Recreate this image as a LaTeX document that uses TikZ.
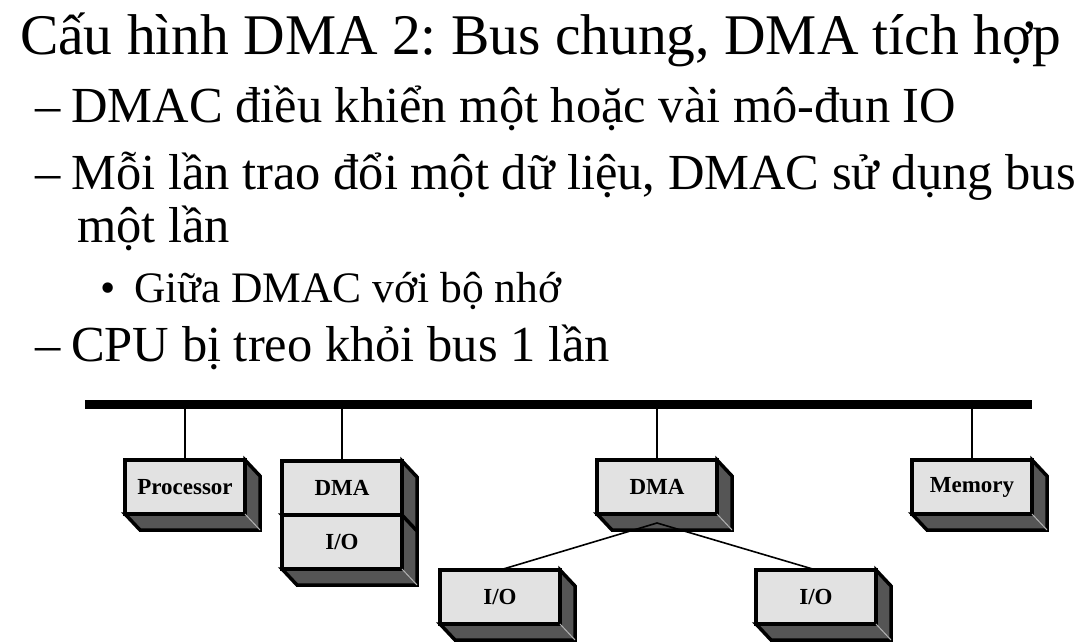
\documentclass[tikz,border=0pt]{standalone}
\usepackage{fontspec}
\setmainfont{Liberation Serif}
\usepackage{tikz}
\frenchspacing

\definecolor{facegray}{RGB}{226,226,226}
\definecolor{sidegray}{RGB}{85,85,85}

\tikzset{
	unit/.style={shape=rectangle,draw=black,line width=3.5pt,fill=facegray,
		minimum width=120pt,minimum height=54pt,inner sep=0pt,outer sep=0pt,
		font=\fontsize{23}{23}\selectfont\bfseries},
	sideface/.style={draw=black,line width=3.5pt,fill=sidegray,line join=miter},
	sideedge/.style={draw=gray!60,line width=1pt},
	wire/.style={draw=black,line width=1.6pt},
	busline/.style={draw=black,line width=9pt},
	txt/.style={anchor=base west,inner sep=0pt,outer sep=0pt}
}

% depth of the box sides
\newcommand{\extrude}[1]{%
	\draw[sideface] (#1.north east) -- ([shift={(15,16)}]#1.north east)
		-- ([shift={(15,16)}]#1.south east) -- ([shift={(15,16)}]#1.south west)
		-- (#1.south west) -- (#1.south east) -- cycle;
	\draw[sideedge] (#1.south east) -- ([shift={(15,16)}]#1.south east);}

\begin{document}
\begin{tikzpicture}[x=1pt,y=-1pt]
	\useasboundingbox (0,0) rectangle (1080,644);

	% slide text
	\node[txt,font=\fontsize{57.5}{57.5}\selectfont] (title) at (20, 55) {Cấu hình DMA 2: Bus chung, DMA tích hợp};
	\node[txt,font=\fontsize{50.5}{50.5}\selectfont] (item1) at (35, 123) {–\hspace{11pt}DMAC điều khiển một hoặc vài mô-đun IO};
	\node[txt,font=\fontsize{50.5}{50.5}\selectfont] (item2) at (35, 190) {–\hspace{11pt}Mỗi lần trao đổi một dữ liệu, DMAC sử dụng bus};
	\node[txt,font=\fontsize{50.5}{50.5}\selectfont] (item2b) at (77, 243) {một lần};
	\node[txt,font=\fontsize{43.5}{43.5}\selectfont] (sub1) at (100, 303) {•\hspace{19pt}Giữa DMAC với bộ nhớ};
	\node[txt,font=\fontsize{50.5}{50.5}\selectfont] (item3) at (35, 362) {–\hspace{11pt}CPU bị treo khỏi bus 1 lần};

	% system bus
	\coordinate (busL) at (85, 405);
	\coordinate (busR) at (1032, 405);
	\draw[busline] (busL) -- (busR);

	% modules
	\node[unit] (proc) at (185, 487)   {Processor};
	\node[unit] (dmaA) at (342, 488)   {DMA};
	\node[unit] (mem)  at (972, 487)   {Memory};
	\node[unit] (dmaB) at (657, 487)   {DMA};
	\node[unit] (ioL)  at (500, 597)   {I/O};
	\node[unit] (ioR)  at (816, 597)   {I/O};

	\draw[wire] (proc.north) -- (proc.north |- busL);
	\draw[wire] (dmaA.north) -- (dmaA.north |- busL);
	\draw[wire] (dmaB.north) -- (dmaB.north |- busL);
	\draw[wire] (mem.north) -- (mem.north |- busL);

	\extrude{proc}
	\extrude{dmaA}
	\node[unit] (ioA) at (342, 542) {I/O};
	\extrude{ioA}
	\extrude{mem}
	\extrude{dmaB}
	\extrude{ioL}
	\extrude{ioR}

	\draw[wire] ([yshift=-9pt]dmaB.south) -- (ioL.north);
	\draw[wire] ([yshift=-9pt]dmaB.south) -- (ioR.north);

\end{tikzpicture}
\end{document}
